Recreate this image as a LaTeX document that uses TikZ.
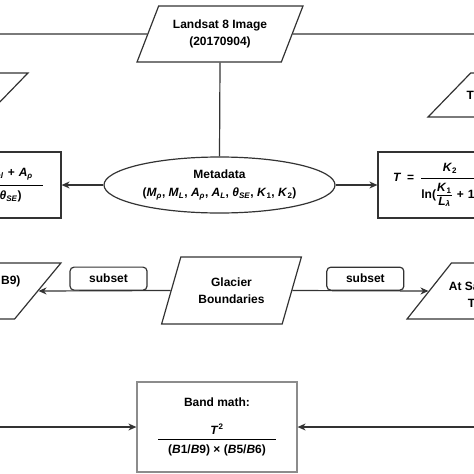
\documentclass[tikz,border=0pt]{standalone}
\usepackage{fontspec}
\setmainfont{Liberation Sans}
\usetikzlibrary{positioning,arrows.meta,shapes.geometric}
\definecolor{Edge}{HTML}{333333}
\definecolor{Frame}{HTML}{8C8C8C}
\newcommand{\vr}[1]{\textit{#1}}
\newcommand{\sbs}[1]{\textsubscript{#1}}
\tikzset{
  base/.style={font=\fontsize{12}{17}\selectfont\bfseries, text=black, align=center},
  para/.style={base, draw=Edge, line width=1.2pt, trapezium, trapezium stretches=true, minimum height=56pt},
  formbox/.style={base, draw=Edge, line width=1.2pt, rectangle, minimum height=66pt},
  tag/.style={base, draw=Edge, line width=1.2pt, rounded corners=4pt, minimum width=77pt, minimum height=23pt, inner sep=0pt, anchor=south},
  flow/.style={draw=Edge, line width=1.2pt},
  feed/.style={flow, -{Stealth[length=8pt,width=7pt,inset=2.5pt]}},
}
\begin{document}
\begin{tikzpicture}[x=1pt,y=-1pt]
\useasboundingbox (0,0) rectangle (474,474);
\clip (0,0) rectangle (474,474);
% inputs
\node[para, trapezium left angle=63, trapezium right angle=117, minimum width=166pt] (landsat) at (220,34) {Landsat 8 Image\\(20170904)};
\node[para, trapezium left angle=52, trapezium right angle=128, minimum width=140pt, minimum height=44pt] (leftIn) at (-42,95) {};
\node[para, trapezium left angle=52, trapezium right angle=128, minimum width=140pt, minimum height=44pt] (tirs) at (498,95) {};
\node[base, anchor=west] (tirsText) at (463,95) {T};
% metadata and conversions
\node[base, ellipse, draw=Edge, line width=1.2pt, minimum width=231pt, minimum height=56pt, inner sep=0pt] (meta) at (219.5,185)
  {Metadata\\[1pt](\vr{M}\sbs{\vr{ρ}}, \vr{M}\sbs{\vr{L}}, \vr{A}\sbs{\vr{ρ}}, \vr{A}\sbs{\vr{L}}, \vr{θ}\sbs{\vr{SE}}, \vr{K}\sbs{1}, \vr{K}\sbs{2})};
\node[formbox, align=right, text width=150pt, inner xsep=17pt] (toa) at (-31,185)
  {\vr{ρ}\sbs{\vr{λ}} = $\displaystyle{\hbox{\hspace{10pt}\vr{M}\sbs{\vr{ρ}}\vr{Q}\sbs{\vr{cal}} + \vr{A}\sbs{\vr{ρ}}\hspace{10pt}}\above 1.5pt\hbox{sin(\vr{θ}\sbs{\vr{SE}})}}$};
\node[formbox, align=left, text width=170pt, inner xsep=15pt] (temp) at (478,185)
  {\vr{T}\enspace=\enspace$\displaystyle{\hbox{\vr{K}\sbs{2}}\above 1.5pt\hbox{ln(${\hbox{\vr{K}\sbs{1}}\above 1pt\hbox{\vr{L}\sbs{\vr{λ}}}}$ + 1)}}$};
% subsets
\node[para, trapezium left angle=67, trapezium right angle=113, minimum width=141pt, minimum height=67pt] (glacier) at (231.5,290.5) {Glacier\\Boundaries};
\node[para, trapezium left angle=51, trapezium right angle=129, minimum width=150pt] (refl) at (-14,291) {};
\node[base, anchor=east] (reflText) at (24,281) {B9)};
\node[para, trapezium left angle=54, trapezium right angle=126, minimum width=150pt] (bright) at (482,291) {};
\node[base] (brightText) at (513,296) {At Satellite Brightness\\Temperature (T)};
% band math
\node[formbox, draw=Frame, minimum width=160pt, minimum height=90pt] (band) at (217,427)
  {Band math:\\[16pt]$\displaystyle{\hbox to 118pt{\hss\vr{T}\textsuperscript{2}\hss}\above 1.5pt\hbox to 118pt{\hss(\vr{B}1/\vr{B}9) × (\vr{B}5/\vr{B}6)\hss}}$};
\coordinate (outL) at (-5,34);
\coordinate (outR) at (479,34);
\coordinate (fromL) at (-5,427);
\coordinate (fromR) at (479,427);
% connectors
\draw[flow] (landsat.west) -- (outL);
\draw[flow] (landsat.east) -- (outR);
\draw[flow] (landsat.south) -- (meta.north);
\draw[feed] (meta.west) -- (toa.east);
\draw[feed] (meta.east) -- (temp.west);
\draw[feed] (glacier.west) -- node[tag, pos=0.47] (subL) {subset} (refl.east);
\draw[feed] (glacier.east) -- node[tag, pos=0.536] (subR) {subset} (bright.west);
\draw[feed] (fromL) -- (band.west);
\draw[feed] (fromR) -- (band.east);
\end{tikzpicture}
\end{document}
